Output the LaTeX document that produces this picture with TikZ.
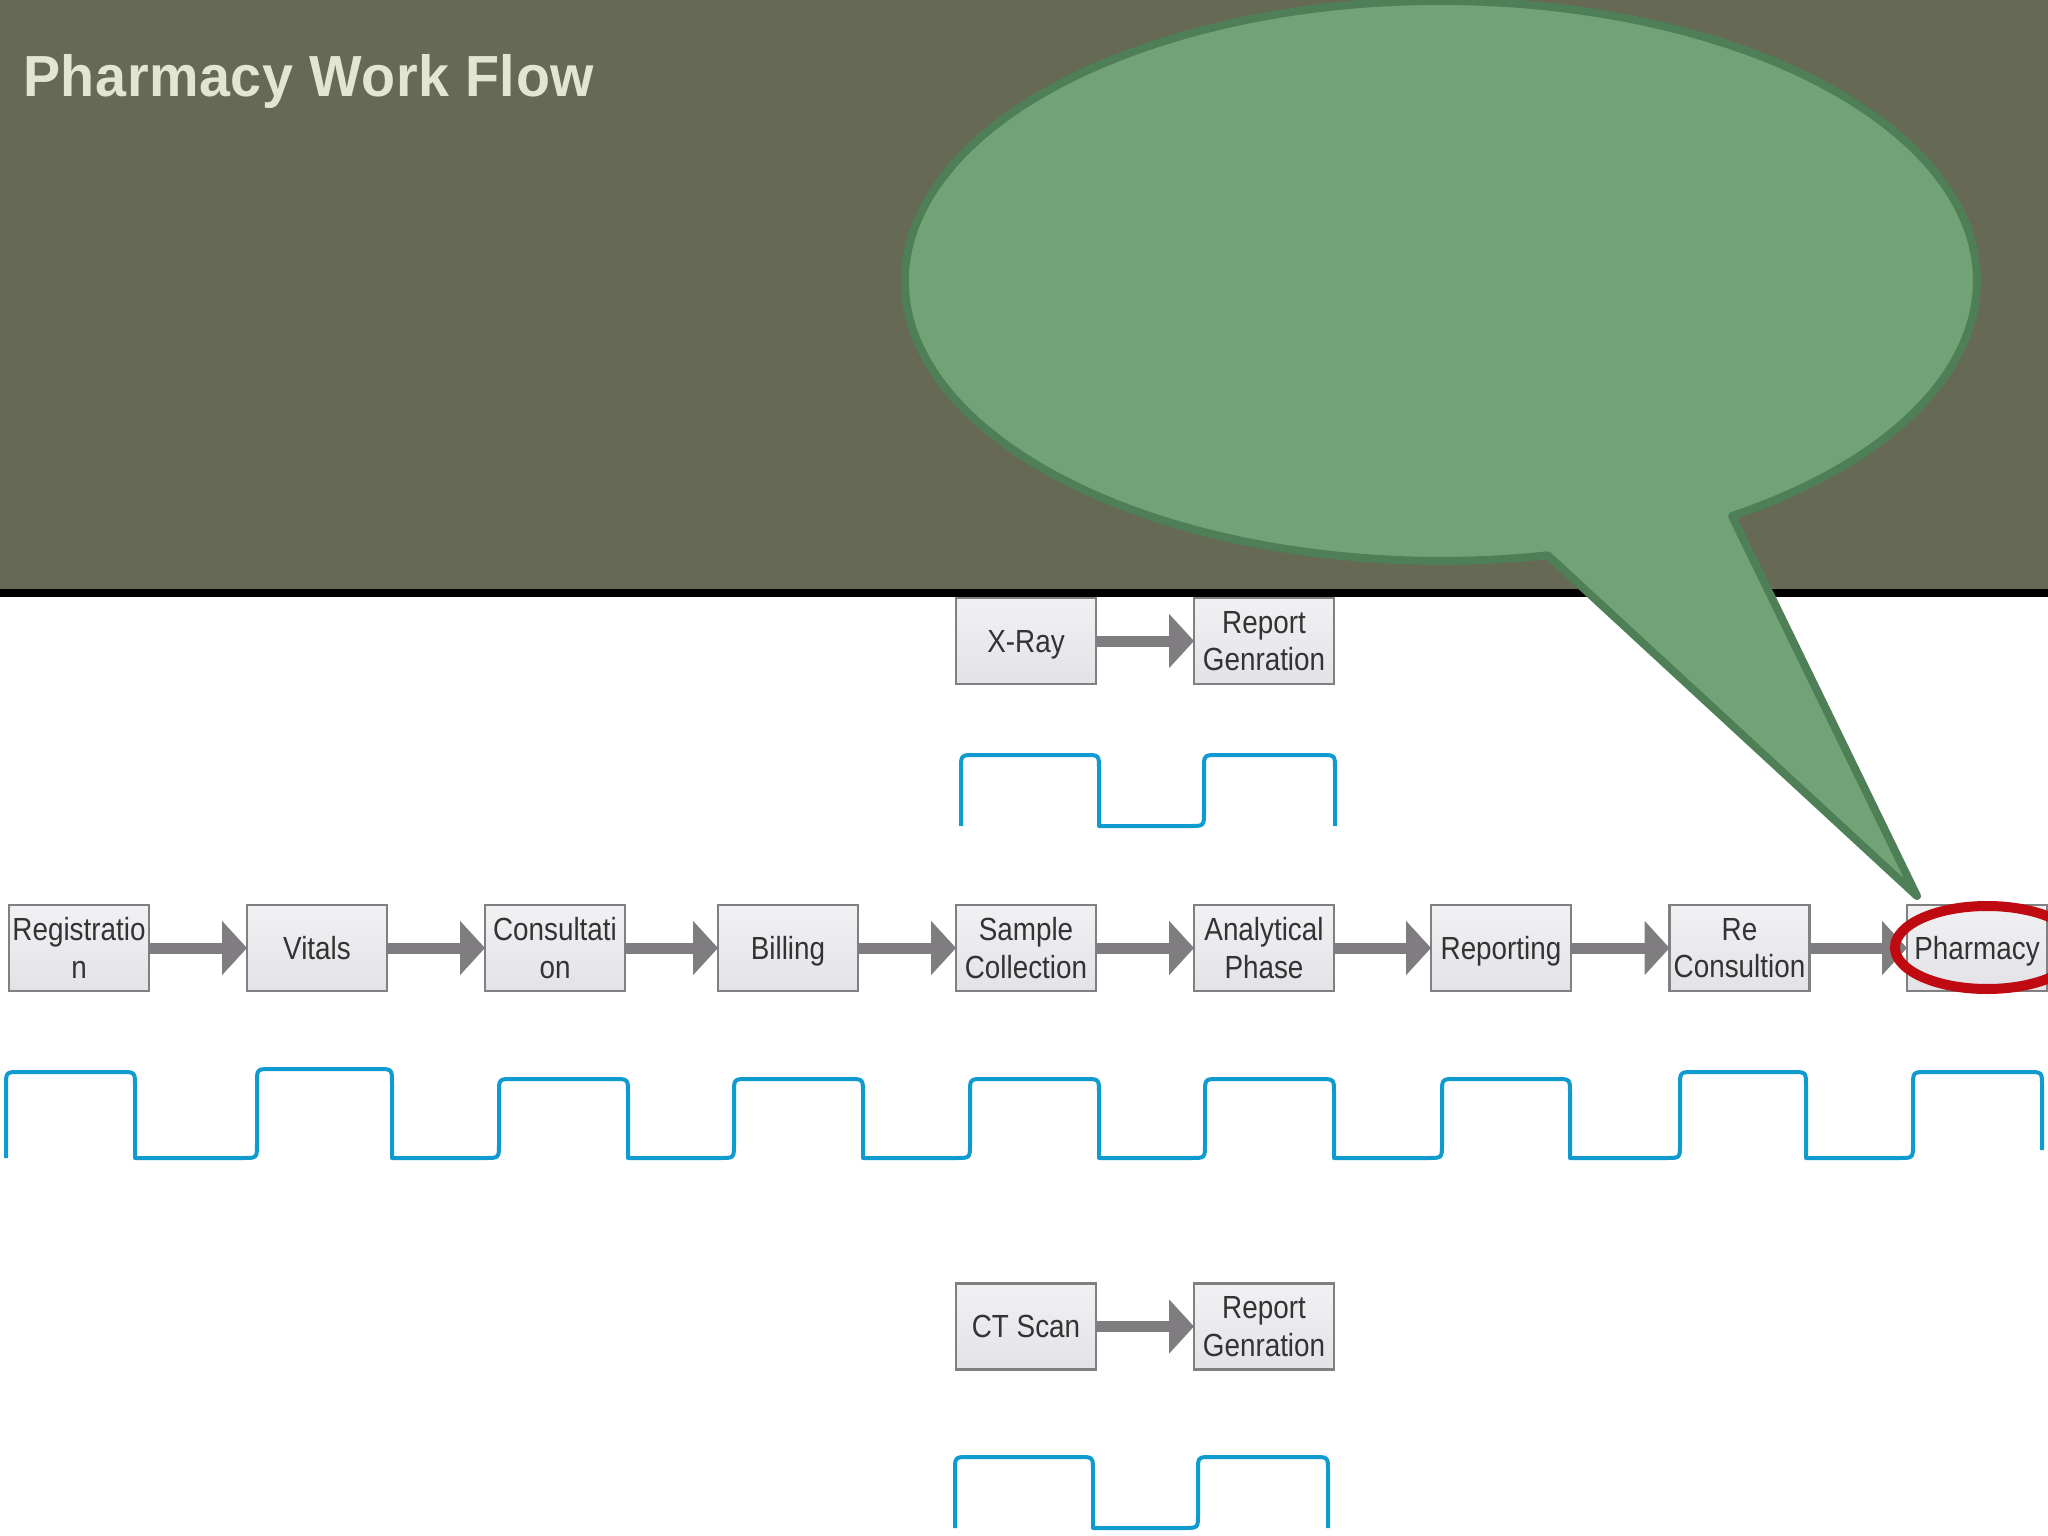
\documentclass[tikz,border=0pt]{standalone}
\usepackage{fontspec}
\setmainfont{Liberation Sans}
\newfontfamily\boxfont[FakeStretch=0.87]{Liberation Sans}
\newfontfamily\titlefont[FakeStretch=0.96,LetterSpace=1]{Liberation Sans Bold}
\usetikzlibrary{arrows.meta}
\definecolor{bandcol}{HTML}{666953}
\definecolor{balloonfill}{HTML}{72A377}
\definecolor{balloonedge}{HTML}{4F7F56}
\definecolor{pulsecol}{HTML}{0F9BD0}
\definecolor{flowcol}{HTML}{7F7D80}
\definecolor{boxedge}{HTML}{807F82}
\definecolor{ringcol}{HTML}{BE0A10}
\definecolor{titlecol}{HTML}{E4E4D2}
\definecolor{boxtop}{HTML}{F1F0F3}
\definecolor{boxbottom}{HTML}{E3E2E6}
\definecolor{textcol}{HTML}{333333}
\tikzset{
  stepbox/.style={draw=boxedge,line width=2.5pt,top color=boxtop,bottom color=boxbottom,
    minimum width=140pt,minimum height=86pt,inner sep=0pt,outer sep=0pt,align=center,
    text=textcol,font=\boxfont\fontsize{32}{37.5}\selectfont},
  oneline/.style={text depth=0pt},
  flow/.style={draw=flowcol,line width=11pt,-{Triangle[length=25pt,width=53pt]}},
  pulse/.style={draw=pulsecol,line width=4pt,line join=round}
}
% one raised pulse: rise at #1, fall at #2, top #3, floor #4
\newcommand{\pulsebit}[4]{
  -- ({#1-14},#4) .. controls (#1,#4) .. (#1,{#4-14})
  -- (#1,{#3+14}) .. controls (#1,#3) .. ({#1+14},#3)
  -- ({#2-14},#3) .. controls (#2,#3) .. (#2,{#3+14})
  -- (#2,#4)}
\begin{document}
\begin{tikzpicture}[x=1pt,y=-1pt]
\useasboundingbox (0,0) rectangle (2048,1536);
\fill[white] (0,0) rectangle (2048,1536);
\fill[bandcol] (0,0) rectangle (2048,589);
\fill[black] (0,589) rectangle (2048,597);
\node[anchor=base west,inner sep=0pt,text=titlecol,font=\titlefont\fontsize{58}{60}\selectfont] (title) at (23,97) {Pharmacy Work Flow};

% main row
\node[stepbox] (reg) at (79,948) {Registratio\\n};
\node[stepbox] (vit) at (317,948) {Vitals};
\node[stepbox] (con) at (555,948) {Consultati\\on};
\node[stepbox,oneline] (bil) at (788,948) {Billing};
\node[stepbox] (sam) at (1026,948) {Sample\\Collection};
\node[stepbox] (ana) at (1264,948) {Analytical\\Phase};
\node[stepbox,oneline] (rep) at (1501,948) {Reporting};
\node[stepbox] (rec) at (1739.5,948) {Re\\Consultion};
\node[stepbox,oneline] (pha) at (1977,948) {Pharmacy};
\draw[flow] (reg) -- (vit);
\draw[flow] (vit) -- (con);
\draw[flow] (con) -- (bil);
\draw[flow] (bil) -- (sam);
\draw[flow] (sam) -- (ana);
\draw[flow] (ana) -- (rep);
\draw[flow] (rep) -- (rec);
\draw[flow] (rec) -- (pha);

% upper branch
\node[stepbox,oneline] (xray) at (1026,641) {X-Ray};
\node[stepbox] (xrep) at (1264,641) {Report\\Genration};
\draw[flow] (xray) -- (xrep);

% lower branch
\node[stepbox] (ct) at (1026,1326.5) {CT Scan};
\node[stepbox] (crep) at (1264,1326.5) {Report\\Genration};
\draw[flow] (ct) -- (crep);

% pulses
\draw[pulse] (6,1158) -- (6,1086) .. controls (6,1072) .. (20,1072) -- (121,1072) .. controls (135,1072) .. (135,1086) -- (135,1158)
  \pulsebit{257}{392}{1069}{1158}
  \pulsebit{499}{628}{1079}{1158}
  \pulsebit{734}{863}{1079}{1158}
  \pulsebit{970}{1099}{1079}{1158}
  \pulsebit{1205}{1334}{1079}{1158}
  \pulsebit{1442}{1570}{1079}{1158}
  \pulsebit{1680}{1806}{1072}{1158}
  -- (1899,1158) .. controls (1913,1158) .. (1913,1144) -- (1913,1086) .. controls (1913,1072) .. (1927,1072)
  -- (2028,1072) .. controls (2042,1072) .. (2042,1086) -- (2042,1150);

\draw[pulse] (961,826) -- (961,769) .. controls (961,755) .. (975,755) -- (1085,755) .. controls (1099,755) .. (1099,769) -- (1099,826)
  -- (1190,826) .. controls (1204,826) .. (1204,812) -- (1204,769) .. controls (1204,755) .. (1218,755)
  -- (1321,755) .. controls (1335,755) .. (1335,769) -- (1335,826);

\draw[pulse] (955,1528) -- (955,1471) .. controls (955,1457) .. (969,1457) -- (1079,1457) .. controls (1093,1457) .. (1093,1471) -- (1093,1528)
  -- (1184,1528) .. controls (1198,1528) .. (1198,1514) -- (1198,1471) .. controls (1198,1457) .. (1212,1457)
  -- (1314,1457) .. controls (1328,1457) .. (1328,1471) -- (1328,1528);

% speech balloon
\draw[draw=balloonedge,fill=balloonfill,line width=8pt,line join=round]
  (1732,516) arc[start angle=-57.1,end angle=281.5,x radius=536pt,y radius=280pt]
  -- (1917,896) -- cycle;

% red ring
\draw[draw=ringcol,line width=10pt] (1987,947.5) ellipse[x radius=92pt,y radius=41.5pt];
\end{tikzpicture}
\end{document}
